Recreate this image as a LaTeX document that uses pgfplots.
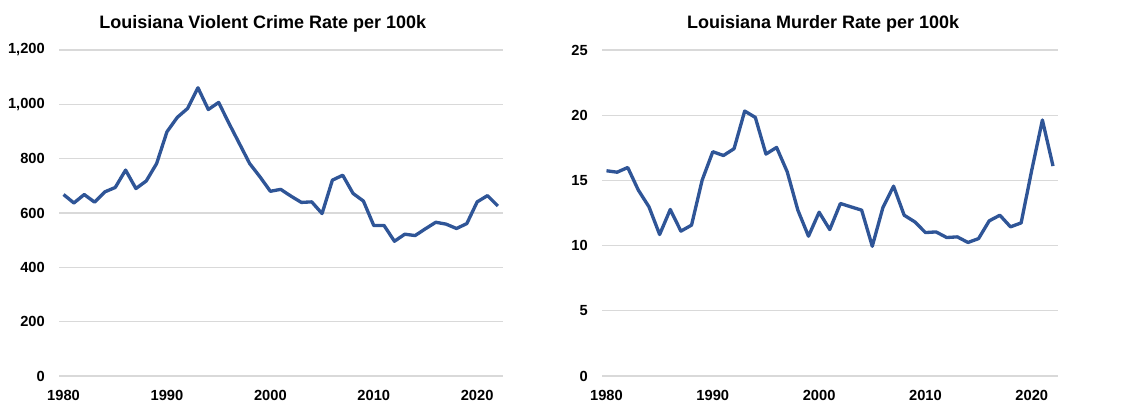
\documentclass[border=0pt]{standalone}
\usepackage{pgfplots}
\pgfplotsset{compat=1.18}
\usepackage{fontspec}
\setmainfont{Liberation Sans}
\definecolor{lineblue}{RGB}{47,85,151}
\definecolor{gridgray}{RGB}{217,217,217}

\pgfplotsset{
  crimestyle/.style={
    scale only axis,
    height=244.5pt,
    axis line style={draw=none},
    major tick length=0pt,
    ymajorgrids,
    grid style={gridgray, line width=0.9pt},
    xtick={1980,1990,2000,2010,2020},
    tick label style={font=\fontsize{11}{13}\selectfont\bfseries, text=black},
    /pgf/number format/assume math mode=true,
    xticklabel style={/pgf/number format/1000 sep={}, inner sep=0pt, anchor=center, yshift=-14.25pt},
    yticklabel style={inner sep=0pt, anchor=east, xshift=-10.5pt},
    title style={font=\fontsize{13.5}{16}\selectfont\bfseries, anchor=center, yshift=13.5pt},
  },
  crimeline/.style={lineblue, line width=2.5pt, line join=round, mark=none},
}

\begin{document}
\begin{tikzpicture}
\useasboundingbox (0,0) rectangle (847.5pt,-309pt);

% left: violent crime
\begin{axis}[crimestyle,
  at={(44.25pt,-282pt)}, anchor=south west,
  width=333pt,
  xmin=1979.56, xmax=2022.5,
  ymin=0, ymax=1200, ytick={0,200,...,1200},
  yticklabel style={/pgf/number format/1000 sep={,}},
  title={Louisiana Violent Crime Rate per 100k},
  title style={at={(axis description cs:0.459,1)}},
]
\addplot[crimeline] table {
x y
1980 668
1981 637
1982 668
1983 640
1984 678
1985 694
1986 758
1987 690
1988 718
1989 782
1990 899
1991 952
1992 985
1993 1061
1994 981
1995 1007
1996 930
1997 856
1998 782
1999 733
2000 680
2001 687
2002 662
2003 639
2004 641
2005 598
2006 721
2007 739
2008 672
2009 644
2010 554
2011 554
2012 496
2013 522
2014 517
2015 542
2016 566
2017 559
2018 543
2019 561
2020 641
2021 664
2022 626
};
\end{axis}

% right: murder
\begin{axis}[crimestyle,
  at={(451.5pt,-282pt)}, anchor=south west,
  width=342pt,
  xmin=1979.58, xmax=2022.47,
  ymin=0, ymax=25, ytick={0,5,...,25},
  title={Louisiana Murder Rate per 100k},
  title style={at={(axis description cs:0.485,1)}},
]
\addplot[crimeline] table {
x y
1980 15.74
1981 15.63
1982 15.99
1983 14.25
1984 12.97
1985 10.85
1986 12.77
1987 11.11
1988 11.57
1989 15.02
1990 17.20
1991 16.91
1992 17.43
1993 20.32
1994 19.83
1995 17.02
1996 17.53
1997 15.66
1998 12.72
1999 10.72
2000 12.56
2001 11.23
2002 13.23
2003 12.97
2004 12.72
2005 9.95
2006 12.92
2007 14.56
2008 12.33
2009 11.82
2010 11.00
2011 11.05
2012 10.62
2013 10.67
2014 10.24
2015 10.54
2016 11.90
2017 12.33
2018 11.44
2019 11.74
2020 15.79
2021 19.63
2022 16.10
};
\end{axis}
\end{tikzpicture}
\end{document}
